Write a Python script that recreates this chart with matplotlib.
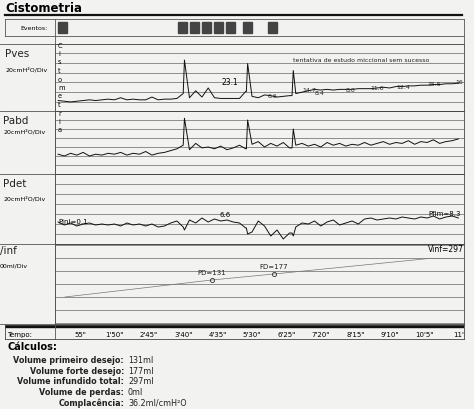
import matplotlib
matplotlib.use("Agg")
import matplotlib.pyplot as plt
from matplotlib.lines import Line2D
from matplotlib.patches import Rectangle
import numpy as np

W, H = 474, 410
times = list(range(20, 670, 10))
pves = [2,1,0,1,2,3,2,3,4,
        3,6,3,4,3,3,7,3,4,4,
        5,12,6,16,7,20,6,5,5,5,
        5,15,8,6,10,9,7,8,9,12,
        14,16,18,17,18,17,18,18,18,19,
        19,19,20,21,20,22,22,23,23,24,
        24,25,25,26,26,27]
pabd = [12,10,13,11,14,10,12,11,13,
        12,14,11,13,12,15,11,13,14,16,
        18,22,17,24,19,20,18,21,17,19,
        22,18,23,26,20,24,21,25,19,22,
        24,21,23,20,25,22,24,21,23,22,
        25,22,24,26,23,25,24,27,23,26,
        25,28,24,26,27,29]
pdet = [2,-1,1,-2,0,1,-1,0,-1,
        0,-2,1,-1,0,-2,0,-3,-2,1,
        3,-3,4,1,6,2,5,3,4,2,
        1,-4,-8,3,-2,-12,-6,-15,-9,-3,
        1,0,3,-2,2,4,-1,1,3,0,
        5,6,4,5,6,5,7,6,5,7,
        6,8,5,7,8,6]
spike_t = [222, 323, 396]
pves_spike = [60, 55, 45]
pabd_spike = [52, 50, 40]
pdet_spike = [-6, -10, -12]
vinf_t = [31, 266, 365, 614, 669]
vinf_v = [0, 131, 177, 297, 297]
marker_t = [266, 365]
marker_v = [131, 177]
marker_lbl = ["PD=131", "FD=177"]
tick_lbl = ['55"', '1\'50"', '2\'45"', '3\'40"', '4\'35"', '5\'30"', '6\'25"',
            '7\'20"', '8\'15"', '9\'10"', '10\'5"', "11'"]
tick_sec = [55*(i+1) for i in range(12)]
calc_names = ["Volume primeiro desejo:", "Volume forte desejo:", "Volume infundido total:",
              "Volume de perdas:", "Complacência:"]
calc_vals = ["131ml", "177ml", "297ml", "0ml", "36.2ml/cmH²O"]

def merge(vals, sp):
    base = [(t-2, vals[(t-20)//10]) for t in spike_t]
    pts = sorted(list(zip(times, vals)) + base + list(zip(spike_t, sp)))
    return [p[0] for p in pts], [p[1] for p in pts]

fig = plt.figure(figsize=(W/100, H/100), dpi=100)
fig.patch.set_facecolor("#f2f2f0")
X0, X1 = 55, 464
T0 = (X0-45.6)/34.4*55
T1 = (X1-45.6)/34.4*55

def ax_px(y0, y1, x0=X0, x1=X1):
    return fig.add_axes([x0/W, 1-y1/H, (x1-x0)/W, (y1-y0)/H])

def hline(y, x0=5, x1=X1, lw=0.6, c="#555"):
    fig.add_artist(Line2D([x0/W, x1/W], [1-y/H, 1-y/H], lw=lw, color=c))

def vline(x, y0, y1, lw=0.6, c="#555"):
    fig.add_artist(Line2D([x/W, x/W], [1-y0/H, 1-y1/H], lw=lw, color=c))

def txt(x, y, s, **kw):
    fig.text(x/W, 1-y/H, s, va="center", **kw)

txt(5, 9, "Cistometria", fontsize=8.5, fontweight="bold")
hline(16, 5, 462, lw=1.6, c="#111")

panels = [
    ("pves", 45, 112, (-13, 83), 14),
    ("pabd", 112, 175, (-10, 60), 10),
    ("pdet", 175, 245, (-20, 50), 10),
    ("vinf", 245, 325, (-208, 408), 100),
]
axes = {}
for name, y0, y1, yl, step in panels:
    a = ax_px(y0, y1)
    a.set_xlim(T0, T1); a.set_ylim(*yl)
    a.set_facecolor("none")
    a.set_yticks(np.arange(np.ceil(yl[0]/step)*step, yl[1], step))
    a.grid(axis="y", color="#666", lw=0.5)
    a.set_xticks([])
    a.tick_params(left=False, labelleft=False)
    for s in a.spines.values():
        s.set_color("#444"); s.set_linewidth(0.6)
    axes[name] = a

for name, vals, sp in [("pves", pves, pves_spike), ("pabd", pabd, pabd_spike), ("pdet", pdet, pdet_spike)]:
    tt, vv = merge(vals, sp)
    axes[name].plot(tt, vv, color="#111", lw=0.7)

av = axes["vinf"]
av.plot(vinf_t, vinf_v, color="#777", lw=0.5)
av.plot(marker_t, marker_v, "o", mfc="none", mec="#333", ms=3, mew=0.6)
for t, v, l in zip(marker_t, marker_v, marker_lbl):
    av.annotate(l, (t, v), xytext=(0, 4), textcoords="offset points", ha="center", fontsize=5, color="#222")
av.annotate("Vinf=297", (vinf_t[-1], vinf_v[-1]), xytext=(0, 5), textcoords="offset points", ha="right", fontsize=5.5)

ap = axes["pves"]
ap.annotate("23.1", (276, 20), xytext=(2, 3), textcoords="offset points", fontsize=5.5)
ap.text(395, 58, "tentativa de estudo miccional sem sucesso", fontsize=4.5, color="#222")
for t, v, l in [(355, 7, "6.6"), (410, 16, "14.7"), (430, 12, "8.4"), (480, 16, "8.0"),
                (520, 19, "11.6"), (560, 20, "12.4"), (610, 24, "15.6"), (655, 27, "16")]:
    ap.text(t, v, l, fontsize=4.5, color="#222")
ad = axes["pdet"]
ad.text(T0+5, 1, "Pini=0.1", fontsize=5)
ad.text(278, 8, "6.6", fontsize=5)
ad.text(T1-5, 9, "Pfim=8.3", fontsize=5, ha="right")

txt(58, 88, "\n".join("Cistometria"), fontsize=4.8, linespacing=1.5)

hline(20, 5, X1); hline(37, 5, X1); hline(45, 55, X1)
vline(5, 20, 37); vline(X1, 20, 45)
for y in [45, 112, 175, 245, 325]:
    hline(y, 0, 55)
txt(48, 28, "Eventos:", fontsize=4.5, ha="right")
for x in [58, 178, 190, 202, 214, 226, 243, 268]:
    fig.add_artist(Rectangle((x/W, 1-34/H), 9/W, 11/H, color="#444"))
txt(5, 54, "Pves", fontsize=7.5, color="#222")
txt(5, 70, "20cmH²O/Div", fontsize=4.5)
txt(3, 121, "Pabd", fontsize=7.5, color="#222")
txt(3, 132, "20cmH²O/Div", fontsize=4.5)
txt(3, 184, "Pdet", fontsize=7.5, color="#222")
txt(3, 199, "20cmH²O/Div", fontsize=4.5)
txt(0, 251, "/inf", fontsize=7.5, color="#222")
txt(0, 266, "00ml/Div", fontsize=4.5)

at = ax_px(326, 340, 5, X1)
at.set_xlim(T0 - (X0-5)/34.4*55, T1)
at.set_ylim(0, 1)
at.set_facecolor("none")
at.axhspan(0.85, 1.0, color="#111")
for s in at.spines.values():
    s.set_color("#444"); s.set_linewidth(0.6)
at.set_yticks([])
at.set_xticks([])
for s, l in zip(tick_sec, tick_lbl):
    at.text(s, 0.35, l, ha="center", va="center", fontsize=5)
at.text(T0 - (X0-20)/34.4*55, 0.35, "Tempo:", ha="center", va="center", fontsize=5)
vline(X0, 20, 340)

txt(7, 347, "Cálculos:", fontsize=7, fontweight="bold")
for i, (n, v) in enumerate(zip(calc_names, calc_vals)):
    y = 361 + i*10.5
    txt(124, y, n, fontsize=5.8, fontweight="bold", ha="right", color="#222")
    txt(128, y, v, fontsize=5.8, color="#222")

fig.savefig("out.png", dpi=100, facecolor=fig.get_facecolor())
